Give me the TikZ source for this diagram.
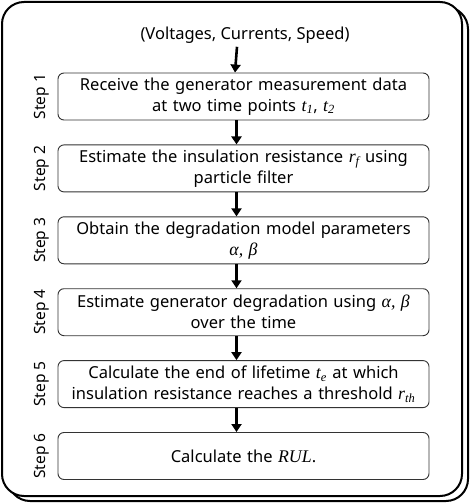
\documentclass[tikz,border=0pt]{standalone}
\usepackage{fontspec}
\setmainfont{Noto Sans}
\newfontfamily\symfont{Liberation Serif}[Scale=1.08]
\newcommand{\mv}[2]{{\symfont\itshape #1}\textsubscript{\symfont\itshape #2}}
\usepackage{tikz}
\usetikzlibrary{arrows.meta,positioning}

\begin{document}
\begin{tikzpicture}[
  x=1pt, y=-1pt,
  node distance=24pt,
  stepbox/.style={draw=black!80, line width=0.9pt, rounded corners=6pt, align=center, text width=367pt, minimum width=371pt, minimum height=47pt, inner sep=2pt, font=\fontsize{16.5}{21}\selectfont},
  steplab/.style={rotate=90, font=\fontsize{15.5}{18}\selectfont},
  arrow/.style={-{Triangle[length=8pt,width=10pt]}, line width=2.6pt}
]
\useasboundingbox (0,0) rectangle (474,503);
% frame with shadow
\draw[line width=2pt, rounded corners=22pt] (8,7) rectangle (468,501);
\draw[line width=2pt, rounded corners=22pt, fill=white] (2,2) rectangle (462,496);

\node[font=\fontsize{16.5}{18}\selectfont] (in) at (245,35) {(Voltages, Currents, Speed)};
\node[stepbox] (s1) at (243.5,96.5) {Receive the generator measurement data\\at two time points \mv{t}{1}, \mv{t}{2}};
\node[stepbox, below=of s1] (s2) {Estimate the insulation resistance \mv{r}{f} using\\particle filter};
\node[stepbox, below=of s2] (s3) {Obtain the degradation model parameters\\{\symfont\itshape α, β}};
\node[stepbox, below=of s3] (s4) {Estimate generator degradation using {\symfont\itshape α, β}\\over the time};
\node[stepbox, below=of s4] (s5) {Calculate the end of lifetime \mv{t}{e} at which\\insulation resistance reaches a threshold \mv{r}{th}};
\node[stepbox, below=of s5] (s6) {Calculate the {\symfont\itshape RUL}.};

\foreach \i in {1,...,6}
  \node[steplab] (l\i) at ([xshift=-16pt]s\i.west) {Step \i};

\draw[arrow] ([xshift=-8pt]in.south) -- ([xshift=-8.5pt]s1.north);
\foreach \x/\y in {s1/s2,s2/s3,s3/s4,s4/s5,s5/s6}
  \draw[arrow] ([xshift=-7pt]\x.south) -- ([xshift=-7pt]\y.north);
\end{tikzpicture}
\end{document}
